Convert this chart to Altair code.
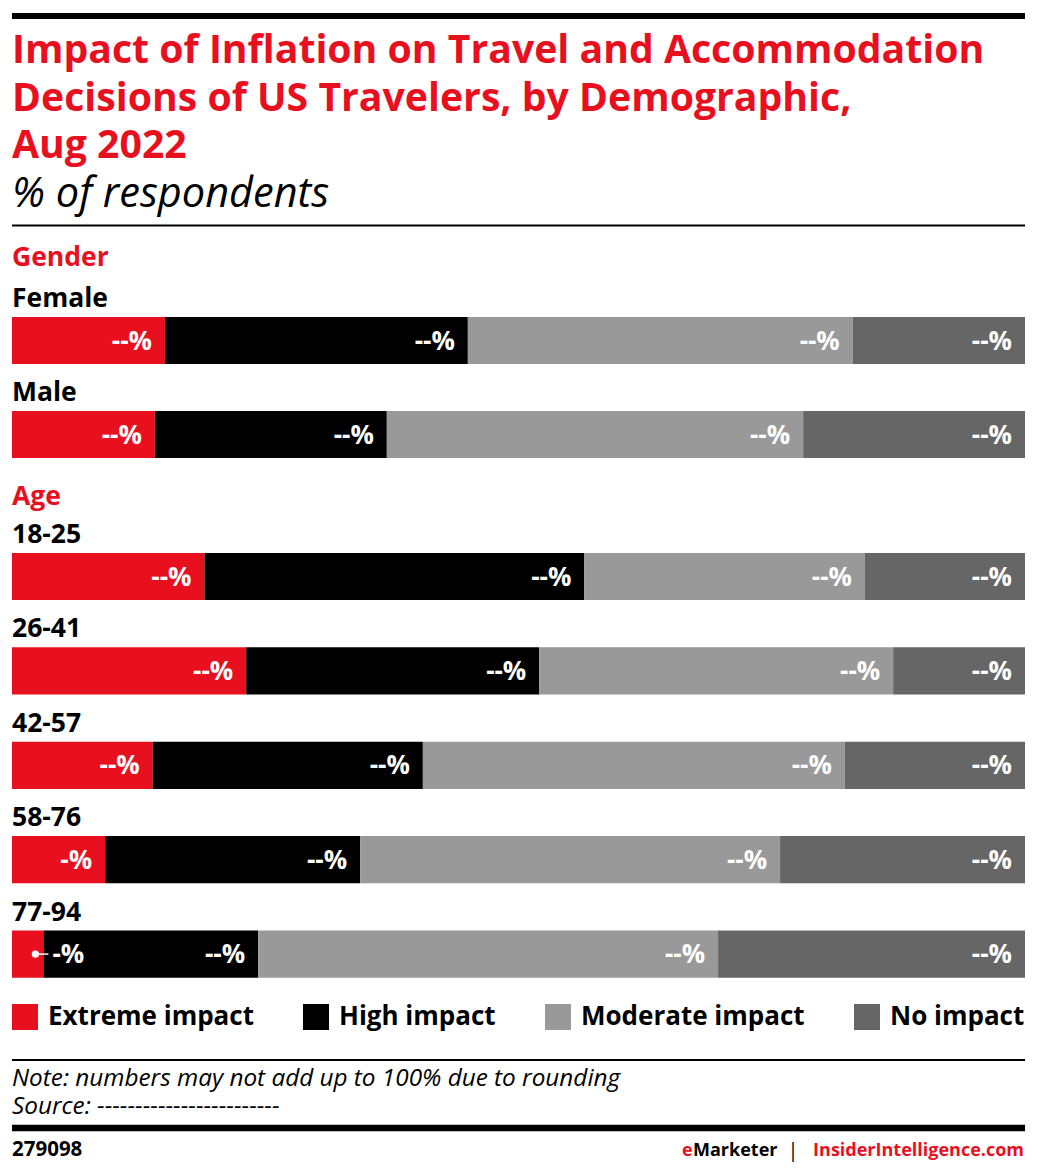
import altair as alt
import pandas as pd

FONT = "Open Sans"
RED = "#e8101f"

# ---------------- data ----------------
title_lines = [
    "Impact of Inflation on Travel and Accommodation",
    "Decisions of US Travelers, by Demographic,",
    "Aug 2022",
]
subtitle = "% of respondents"
group_titles = ["Gender", "Age"]
gender_rows = ["Female", "Male"]
age_rows = ["18-25", "26-41", "42-57", "58-76", "77-94"]
series = ["Extreme impact", "High impact", "Moderate impact", "No impact"]
series_colors = [RED, "#000000", "#999999", "#666666"]

extreme = [15.1, 14.1, 19.0, 23.1, 13.9, 9.2, 3.1]
high = [29.9, 22.9, 37.5, 28.9, 26.7, 25.2, 21.2]
moderate = [38.0, 41.1, 27.7, 34.9, 41.7, 41.5, 45.4]
no_impact = [17.0, 21.9, 15.8, 13.0, 17.8, 24.2, 30.3]

labels_extreme = ["--%", "--%", "--%", "--%", "--%", "-%", "-%"]
labels_high = ["--%"] * 7
labels_moderate = ["--%"] * 7
labels_none = ["--%"] * 7

callout_row = "77-94"
callout_series = "Extreme impact"

footnote_lines = [
    "Note: numbers may not add up to 100% due to rounding",
    "Source: ------------------------",
]
footer_id = "279098"
brand_e = "e"
brand_rest = "Marketer"
brand_sep = "|"
brand_site = "InsiderIntelligence.com"

# ---------------- table ----------------
all_rows = gender_rows + age_rows
values = [extreme, high, moderate, no_impact]
labels = [labels_extreme, labels_high, labels_moderate, labels_none]
records = []
for i, r in enumerate(all_rows):
    for k, s in enumerate(series):
        records.append({
            "row": r,
            "series": s,
            "order": k,
            "value": values[k][i],
            "label": labels[k][i],
        })
df = pd.DataFrame(records)
gender_df = df[df["row"].isin(gender_rows)]
age_df = df[df["row"].isin(age_rows)]

xscale = alt.Scale(domain=[0, 1], range=[12, 1025])
legend = alt.Legend(
    title=None, orient="none", legendX=12, legendY=1004, direction="horizontal",
    columns=4, columnPadding=49, symbolType="square", symbolSize=676,
    symbolStrokeWidth=0, labelFont=FONT, labelFontWeight="bold", labelFontSize=26,
    labelColor="#000000", labelOffset=10, labelLimit=400, padding=0, offset=0,
)
color = alt.Color("series:N", scale=alt.Scale(domain=series, range=series_colors),
                  legend=legend, sort=series)

callout_test = (alt.datum.row == callout_row) & (alt.datum.series == callout_series)


def section(data, rows, yrange, with_callout):
    y = alt.Y("row:N", scale=alt.Scale(domain=rows, range=yrange,
                                         paddingInner=0.5, paddingOuter=0.25), axis=None)
    base = alt.Chart(data).transform_stack(
        stack="value", groupby=["row"], as_=["v0", "v1"], offset="normalize",
        sort=[alt.SortField("order", order="ascending")],
    )
    bars = base.mark_bar().encode(
        x=alt.X("v0:Q", scale=xscale, axis=None), x2="v1:Q", y=y, color=color
    )
    inside = base.transform_filter(~callout_test).mark_text(
        align="right", baseline="middle", dx=-13, dy=1, color="white",
        font=FONT, fontWeight="bold", fontSize=26,
    ).encode(x=alt.X("v1:Q", scale=xscale, axis=None), y=y, text="label:N")
    rowlab = alt.Chart(pd.DataFrame({"row": rows})).mark_text(
        align="left", baseline="alphabetic", dy=-33.5, color="black",
        font=FONT, fontWeight="bold", fontSize=26.5,
    ).encode(x=alt.value(12), y=y, text="row:N")
    layers = [bars, inside, rowlab]
    if with_callout:
        cb = base.transform_filter(callout_test)
        layers.append(cb.mark_rule(color="white", strokeWidth=1.5, xOffset=-8, x2Offset=5).encode(
            x=alt.X("v1:Q", scale=xscale, axis=None), x2="v1:Q", y=y))
        layers.append(cb.mark_circle(color="white", opacity=1, size=55, xOffset=-8).encode(
            x=alt.X("v1:Q", scale=xscale, axis=None), y=y))
        layers.append(cb.mark_text(
            align="left", baseline="middle", dx=9, dy=1, color="white",
            font=FONT, fontWeight="bold", fontSize=26,
        ).encode(x=alt.X("v1:Q", scale=xscale, axis=None), y=y, text="label:N"))
    return alt.layer(*layers)


def txt(s, x, y, size, color="black", weight="normal", style="normal", align="left",
        line_height=None):
    kw = {}
    if line_height is not None:
        kw["lineHeight"] = line_height
    return alt.Chart(pd.DataFrame({"a": [0]})).mark_text(
        align=align, baseline="alphabetic", font=FONT, fontSize=size,
        fontWeight=weight, fontStyle=style, color=color, **kw,
    ).encode(x=alt.value(x), y=alt.value(y), text=alt.value(s))


def rule(x1, x2, y, w):
    return alt.Chart(pd.DataFrame({"a": [0]})).mark_rule(
        color="black", strokeWidth=w
    ).encode(x=alt.value(x1), x2=alt.value(x2), y=alt.value(y))


deco = [
    rule(12, 1025, 16, 6),
    txt(title_lines, 12, 63, 39.2, RED, "bold", line_height=47.5),
    txt(subtitle, 12, 207, 41.5, "black", "normal", "italic"),
    rule(12, 1025, 225.5, 2),
    txt(group_titles[0], 12, 266, 26.5, RED, "bold"),
    txt(group_titles[1], 12, 505, 26.5, RED, "bold"),
    rule(12, 1025, 1060, 2),
    txt(footnote_lines, 12, 1086, 24.3, "black", "normal", "italic", line_height=28),
    rule(12, 1025, 1128, 6.5),
    txt(footer_id, 12, 1156, 20.5, "black", "bold"),
    txt(brand_e, 682, 1156, 18, RED, "bold"),
    txt(brand_rest, 693, 1156, 18, "black", "bold"),
    txt(brand_sep, 793, 1157, 20, "black", "normal", align="center"),
    txt(brand_site, 1024, 1156, 18, RED, "bold", align="right"),
]

gender = section(gender_df, gender_rows, [293.5, 481.5], False)
age = section(age_df, age_rows, [529.3, 1001.3], True)

chart = alt.layer(*deco, gender, age).resolve_scale(y="independent").properties(
    width=1038, height=1174, padding=0,
    autosize=alt.AutoSizeParams(type="none"),
    background="white",
).configure_view(stroke=None)

chart.save("out.html", embed_options={"renderer": "svg", "actions": False})
